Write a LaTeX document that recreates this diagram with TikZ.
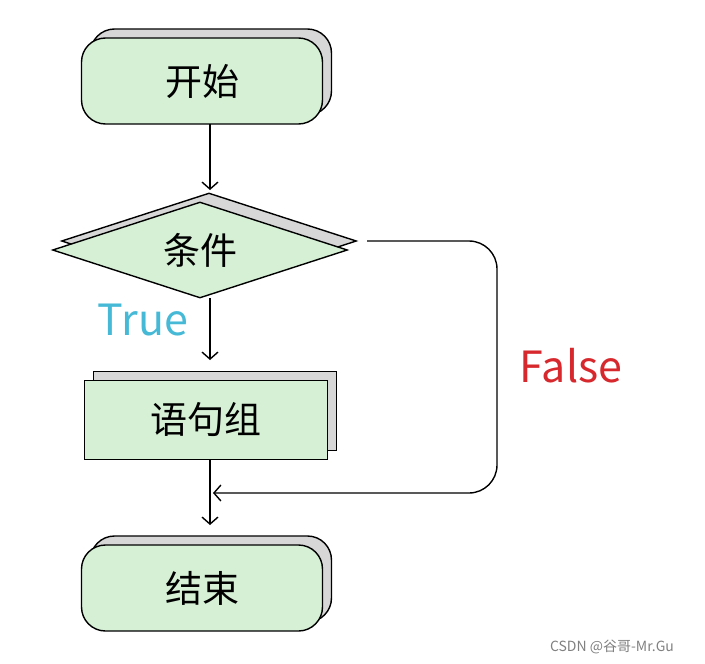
\documentclass[tikz,border=0pt]{standalone}
\usepackage{fontspec}
\setmainfont{Noto Sans CJK SC}
\usetikzlibrary{shapes.geometric,shadows,arrows.meta}
\definecolor{boxgreen}{RGB}{214,240,214}
\definecolor{shgray}{RGB}{215,215,215}
\definecolor{trueblue}{RGB}{70,185,215}
\definecolor{falsered}{RGB}{215,40,45}
\begin{document}
\begin{tikzpicture}[x=1pt,y=-1pt,
  sh/.style={general shadow={shadow xshift=9pt,shadow yshift=9pt,fill=shgray,draw=black,line width=1.4pt}},
  base/.style={draw=black,line width=1.4pt,fill=boxgreen,font=\fontsize{37}{37}\selectfont,sh},
  term/.style={base,rectangle,rounded corners=24pt,minimum width=241pt,minimum height=86pt},
  proc/.style={base,rectangle,minimum width=243pt,minimum height=79pt},
  dec/.style={base,diamond,aspect=3,minimum width=295pt,minimum height=96pt,inner sep=0pt},
  arr/.style={line width=1.4pt,-{Straight Barb[length=7pt,width=16pt]}}]
\useasboundingbox (0,0) rectangle (705,664);
\node[term] (start) at (202,81) {开始};
\node[dec] (cond) at (200,250) {条件};
\node[proc] (body) at (206,420) {语句组};
\node[term] (stop) at (202,588) {结束};
\coordinate (c1) at (210,124);
\coordinate (c2) at (210,190);
\coordinate (c3) at (210,298);
\coordinate (c4) at (210,360);
\coordinate (c5) at (210,460);
\coordinate (c6) at (210,525);
\coordinate (fr) at (367,241);
\coordinate (fm) at (213,493);
\draw[arr] (c1) -- (c2);
\draw[arr] (c3) -- (c4);
\draw[arr] (c5) -- (c6);
\draw[arr,rounded corners=28pt] (fr) -- (497,241) -- (497,493) -- (fm);
\node[text=trueblue,font=\fontsize{43}{43}\selectfont] (t) at (143,320) {True};
\node[text=falsered,font=\fontsize{43}{43}\selectfont] (f) at (571,366) {False};
\node[text=gray,font=\fontsize{14}{14}\selectfont] (wm) at (612,647) {CSDN @谷哥-Mr.Gu};
\end{tikzpicture}
\end{document}
